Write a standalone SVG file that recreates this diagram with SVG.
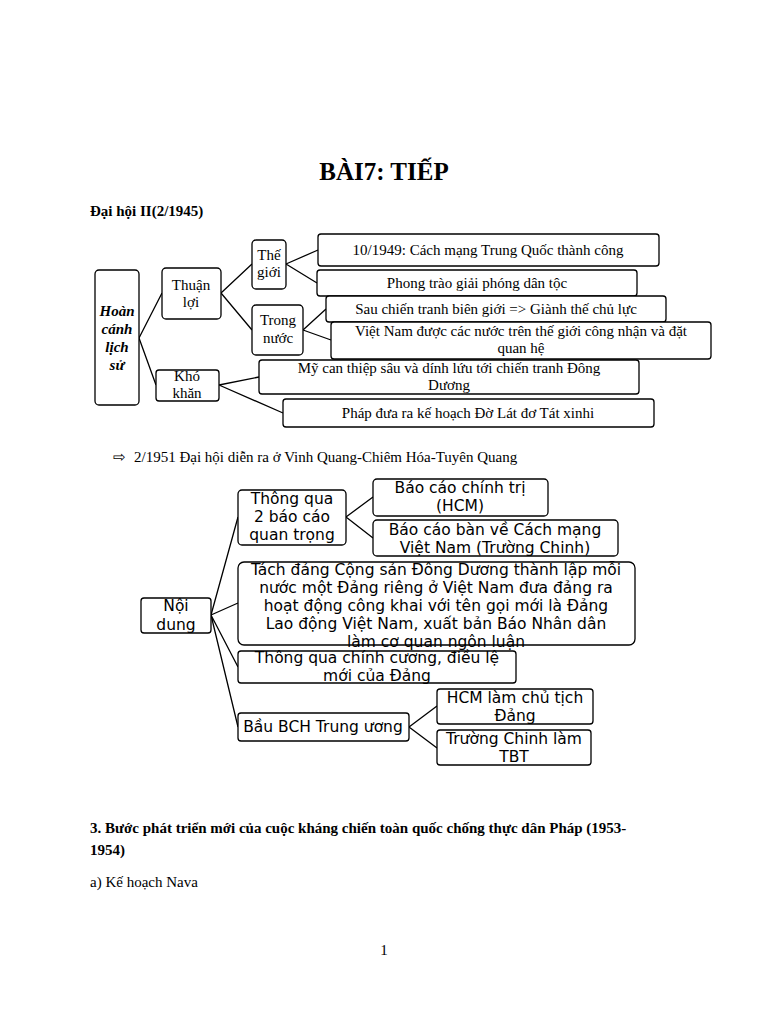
<svg xmlns="http://www.w3.org/2000/svg" width="768" height="1024" viewBox="0 0 768 1024">
<style>
.b{fill:#fff;stroke:#000;stroke-width:1.3}
.s{font-family:"Liberation Serif",serif;font-size:15px;fill:#000;text-anchor:middle}
.d{font-family:"DejaVu Sans",sans-serif;font-size:15.5px;fill:#000;text-anchor:middle}
.t{font-family:"Liberation Serif",serif;font-size:15px;fill:#000}
#c path{fill:none;stroke:#000;stroke-width:1.3}
</style>
<rect width="768" height="1024" fill="#fff"/>
<text x="384" y="180" style="font-family:'Liberation Serif',serif;font-size:25px;font-weight:bold;text-anchor:middle">BÀI7:  TIẾP</text>
<text class="t" x="90" y="216" font-weight="bold">Đại hội II(2/1945)</text>
<text class="t" x="113" y="462">⇨</text>
<text class="t" x="134" y="462">2/1951 Đại hội diễn ra ở Vinh Quang-Chiêm Hóa-Tuyên Quang</text>
<text class="t" x="90" y="833" font-weight="bold">3. Bước phát triển mới của cuộc kháng chiến toàn quốc chống thực dân Pháp (1953-</text>
<text class="t" x="90" y="855" font-weight="bold">1954)</text>
<text class="t" x="90" y="887">a) Kế hoạch Nava</text>
<text class="t" x="384" y="955" text-anchor="middle">1</text>
<g id="c">
<path d="M139 338L162 293M139 338L156 385M221 293L252 264M221 293L252 330M286 264L318 250M286 264L317 283M303 330L326 309M303 330L331 340M219 385L259 377M219 385L283 413"/>
<path d="M211 615L238 517M211 615L238 603M211 615L238 667M211 615L238 727M346 517L373 497M346 517L373 538M409 727L437 706M409 727L437 748"/>
</g>
<g id="n1"><rect class="b" x="95" y="270" width="44" height="135" rx="4"/><text class="s" font-weight="bold" font-style="italic"><tspan x="117" y="316">Hoàn</tspan><tspan x="117" y="334">cánh</tspan><tspan x="117" y="352">lịch</tspan><tspan x="117" y="370">sử</tspan></text></g>
<g id="n2"><rect class="b" x="162" y="268" width="59" height="51" rx="4"/><text class="s"><tspan x="191" y="290">Thuận</tspan><tspan x="191" y="307">lợi</tspan></text></g>
<g id="n3"><rect class="b" x="156" y="370" width="63" height="31" rx="3"/><text class="s"><tspan x="187" y="381">Khó</tspan><tspan x="187" y="398">khăn</tspan></text></g>
<g id="n4"><rect class="b" x="252" y="240" width="34" height="49" rx="4"/><text class="s"><tspan x="269" y="260">Thế</tspan><tspan x="269" y="277">giới</tspan></text></g>
<g id="n5"><rect class="b" x="252" y="305" width="51" height="50" rx="4"/><text class="s"><tspan x="278" y="325">Trong</tspan><tspan x="278" y="343">nước</tspan></text></g>
<g id="n6"><rect class="b" x="318" y="234" width="341" height="32" rx="3"/><text class="s" x="488" y="255">10/1949: Cách mạng Trung Quốc thành công</text></g>
<g id="n7"><rect class="b" x="317" y="270" width="320" height="26" rx="3"/><text class="s" x="477" y="288">Phong trào giải phóng dân tộc</text></g>
<g id="n8"><rect class="b" x="326" y="296" width="340" height="26" rx="3"/><text class="s" x="496" y="314">Sau chiến tranh biên giới =&gt; Giành thế chủ lực</text></g>
<g id="n9"><rect class="b" x="331" y="322" width="380" height="37" rx="3"/><text class="s"><tspan x="521" y="336">Việt Nam được các nước trên thế giới công nhận và đặt</tspan><tspan x="521" y="353">quan hệ</tspan></text></g>
<g id="n10"><rect class="b" x="259" y="360" width="380" height="34" rx="3"/><text class="s"><tspan x="449" y="373">Mỹ can thiệp sâu và dính lứu tới chiến tranh Đông</tspan><tspan x="449" y="390">Dương</tspan></text></g>
<g id="n11"><rect class="b" x="283" y="399" width="371" height="28" rx="3"/><text class="s" x="468" y="418">Pháp đưa ra kế hoạch Đờ Lát đơ Tát xinhi</text></g>
<g id="m1"><rect class="b" x="141" y="598" width="70" height="35" rx="3"/><text class="d"><tspan x="176" y="611">Nội</tspan><tspan x="176" y="630">dung</tspan></text></g>
<g id="m2"><rect class="b" x="238" y="490" width="108" height="55" rx="4"/><text class="d"><tspan x="292" y="504">Thông qua</tspan><tspan x="292" y="522">2 báo cáo</tspan><tspan x="292" y="540">quan trọng</tspan></text></g>
<g id="m3"><rect class="b" x="373" y="479" width="175" height="37" rx="4"/><text class="d"><tspan x="460" y="493">Báo cáo chính trị</tspan><tspan x="460" y="511">(HCM)</tspan></text></g>
<g id="m4"><rect class="b" x="373" y="520" width="245" height="36" rx="4"/><text class="d"><tspan x="495" y="535">Báo cáo bàn về Cách mạng</tspan><tspan x="495" y="553">Việt Nam (Trường Chinh)</tspan></text></g>
<g id="m5"><rect class="b" x="238" y="562" width="397" height="83" rx="6"/><text class="d"><tspan x="436" y="575">Tách đảng Cộng sản Đông Dương thành lập mỗi</tspan><tspan x="436" y="593">nước một Đảng riêng ở Việt Nam đưa đảng ra</tspan><tspan x="436" y="611">hoạt động công khai với tên gọi mới là Đảng</tspan><tspan x="436" y="629">Lao động Việt Nam, xuất bản Báo Nhân dân</tspan><tspan x="436" y="647">làm cơ quan ngôn luận</tspan></text></g>
<g id="m6"><rect class="b" x="238" y="651" width="278" height="32" rx="3"/><text class="d"><tspan x="377" y="663">Thông qua chính cương, điều lệ</tspan><tspan x="377" y="681">mới của Đảng</tspan></text></g>
<g id="m7"><rect class="b" x="238" y="713" width="171" height="28" rx="3"/><text class="d" x="323" y="732">Bầu BCH Trung ương</text></g>
<g id="m8"><rect class="b" x="437" y="689" width="156" height="35" rx="3"/><text class="d"><tspan x="515" y="703">HCM làm chủ tịch</tspan><tspan x="515" y="721">Đảng</tspan></text></g>
<g id="m9"><rect class="b" x="437" y="730" width="154" height="35" rx="3"/><text class="d"><tspan x="514" y="744">Trường Chinh làm</tspan><tspan x="514" y="762">TBT</tspan></text></g>
</svg>
